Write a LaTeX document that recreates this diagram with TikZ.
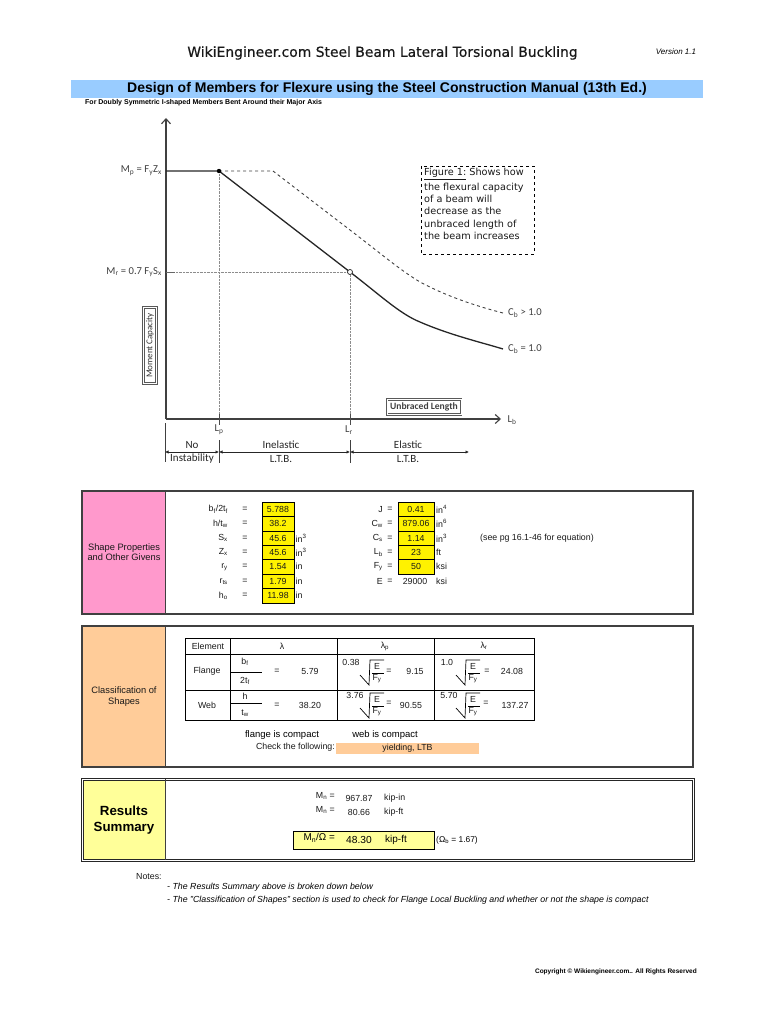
\documentclass[tikz,border=0pt]{standalone}
\usepackage{fontspec}
\setmainfont{Liberation Sans}
\newfontfamily\verdana{DejaVu Sans}
\newfontfamily\titlefont[FakeBold=0.5]{DejaVu Sans}
\newfontfamily\chartfont{Carlito}
\usetikzlibrary{arrows.meta}
\newcommand{\fsz}[1]{\fontsize{#1}{#1}\selectfont}
\newcommand{\sbs}[1]{\textsubscript{#1}}
\newcommand{\sps}[1]{\textsuperscript{#1}}
\definecolor{bandblue}{HTML}{99CCFF}
\definecolor{panelpink}{HTML}{FF99CC}
\definecolor{panelorange}{HTML}{FFCC99}
\definecolor{panelyellow}{HTML}{FFFF99}
\tikzset{
  cell/.style={inner sep=0pt,font=\fsz{8.8}\color{black!90}},
  chartlbl/.style={inner sep=0pt,font=\chartfont\fsz{10.6}\color{black!75}},
  zonelbl/.style={inner sep=0pt,font=\chartfont\fsz{11}\color{black!85}},
  inbox/.style={draw=black,fill=yellow,minimum width=#1,minimum height=14.4pt,inner sep=0pt,font=\fsz{8.8}\color{black!90}},
  paneltxt/.style={inner sep=0pt,align=center,font=\fsz{9.3}\color{black!90}},
  panel/.style={draw=black!75,line width=1.4pt},
  side/.style={draw=black!75,line width=1pt},
  graybox/.style={draw=black!65,double=white,double distance=0.8pt,line width=0.9pt,fill=white,inner sep=0pt},
  dimarrow/.style={{Latex[length=3.5pt,width=3.5pt]}-{Latex[length=3.5pt,width=3.5pt]},line width=0.7pt,black!85}
}
\begin{document}
\begin{tikzpicture}[x=1pt,y=-1pt]
\useasboundingbox (0,0) rectangle (768,1024);
% headings
\node (title) [inner sep=0pt,font=\titlefont\fsz{13.9}\color{black!90}] at (382.5,53) {WikiEngineer.com Steel Beam Lateral Torsional Buckling};
\node (version) [inner sep=0pt,font=\itshape\fsz{8}] at (676,52) {Version 1.1};
\node (band) [fill=bandblue,minimum width=632pt,minimum height=18pt,inner sep=0pt,font=\bfseries\fsz{14}] at (387,89) {Design of Members for Flexure using the Steel Construction Manual (13th Ed.)};
\node (scope) [anchor=west,inner sep=0pt,font=\bfseries\fsz{7}] at (85,103) {For Doubly Symmetric I-shaped Members Bent Around their Major Axis};

% chart axes and curves
\coordinate (orig) at (166,419);
\coordinate (ytop) at (166,118);
\coordinate (xend) at (501,419);
\coordinate (mp) at (219,171);
\coordinate (mpc) at (273,171);
\coordinate (mr) at (350,272);
\coordinate (lp) at (219,419);
\coordinate (lr) at (350,419);
\coordinate (myl) at (166,171);
\coordinate (myr) at (166,272);
\draw[-{Straight Barb[length=5pt,width=9pt]},line width=1.1pt,black!75] (orig) -- (ytop);
\draw[-{Straight Barb[length=5pt,width=9pt]},line width=1.1pt,black!75] (orig) -- (xend);
\draw[line width=1.3pt,black!85] (myl) -- (mp) -- (mr) .. controls (380,295) and (400,314) .. (420,322) .. controls (450,335) and (480,342) .. (503,349);
\draw[dashed,line width=0.9pt,black!75] (mp) -- (mpc) -- (350,230) .. controls (380,253) and (400,270) .. (420,282) .. controls (450,298) and (480,307) .. (503,313);
\draw[densely dotted,black!45] (mp) -- (lp);
\draw[densely dotted,black!45] (mr) -- (lr);
\draw[densely dotted,black!45] (myr) -- (mr);
\draw[black!60] (myr) -- ++(9,0);
\draw[black!70] (lp) ++(0,-5) -- ++(0,11);
\draw[black!70] (lr) ++(0,-5) -- ++(0,11);
\fill[black] (mp) circle (2.2pt);
\draw[black!85,line width=0.7pt,fill=white] (mr) circle (2.5pt);
\node (mplbl) [chartlbl,anchor=east] at (162,171) {M\sbs{p} = F\sbs{y}Z\sbs{x}};
\node (mrlbl) [chartlbl,anchor=east] at (162,272) {M\sbs{r} = 0.7 F\sbs{y}S\sbs{x}};
\node (cbgt) [chartlbl,anchor=west] at (508,313) {C\sbs{b} > 1.0};
\node (cbeq) [chartlbl,anchor=west] at (508,349) {C\sbs{b} = 1.0};
\node (lbl) [chartlbl] at (512,420) {L\sbs{b}};
\node (lplbl) [chartlbl] at (219,430) {L\sbs{p}};
\node (lrlbl) [chartlbl] at (349,430) {L\sbs{r}};
\node (moment) [graybox,rotate=90,minimum width=76pt,minimum height=13pt,font=\chartfont\fsz{9}\color{black!80}] at (150,345.5) {Moment Capacity};
\node (unbraced) [graybox,minimum width=74pt,minimum height=15pt,font=\chartfont\bfseries\fsz{9.6}\color{black!75}] at (424,407) {Unbraced Length};

% zones under the axis
\coordinate (z0) at (165,452);
\coordinate (z1) at (219,452);
\coordinate (z2) at (350,452);
\coordinate (z3) at (469,452);
\draw[line width=0.9pt,black!75] (165,423) -- (165,462);
\draw[line width=0.9pt,black!75] (219,440) -- (219,463);
\draw[line width=0.9pt,black!75] (350,440) -- (350,463);
\draw[dimarrow] (z0) -- (z1);
\draw[dimarrow] (z1) -- (z2);
\draw[dimarrow] (z2) -- (z3);
\foreach \zx/\ztop/\zbot [count=\i] in {192/No/Instability,281/Inelastic/L.T.B.,408/Elastic/L.T.B.} {
  \node (ztop\i) [zonelbl] at (\zx,445) {\ztop};
  \node (zbot\i) [zonelbl] at (\zx,459) {\zbot};
}

% note beside the curves
\draw[dashed,line width=0.8pt] (421,166) rectangle (534,254);
\node (note) [anchor=north west,inner sep=0pt,align=left,font=\verdana\fsz{9.7}\color{black!90}] at (424,168) {\underline{Figure 1:} Shows how\\[2.5pt]the flexural capacity\\[2.5pt]of a beam will\\[2.5pt]decrease as the\\[2.5pt]unbraced length of\\[2.5pt]the beam increases};

% shape properties
\node (shapes) [paneltxt,fill=panelpink,minimum width=83pt,minimum height=123pt] at (124,552.5) {Shape Properties\\[1pt]and Other Givens};
\draw[panel] (82,491) rectangle (693,614);
\draw[side] (165,491) -- (165,614);
\foreach \plbl/\pval/\punit [count=\i] in {{b\sbs{f}/2t\sbs{f}}/5.788/{},{h/t\sbs{w}}/38.2/{},S\sbs{x}/45.6/in\sps{3},Z\sbs{x}/45.6/in\sps{3},r\sbs{y}/1.54/in,r\sbs{ts}/1.79/in,h\sbs{o}/11.98/in} {
  \node (pval\i) [inbox=32pt] at (278,494.8+14.4*\i) {\pval};
  \node (plbl\i) [cell,anchor=east] at (228,494.8+14.4*\i) {\plbl};
  \node (peq\i) [cell] at (245,494.8+14.4*\i) {=};
  \node (punit\i) [cell,anchor=west] at (295.5,494.8+14.4*\i) {\punit};
}
\foreach \glbl/\gval/\gunit [count=\i] in {J/0.41/in\sps{4},C\sbs{w}/879.06/in\sps{6},C\sbs{s}/1.14/in\sps{3},L\sbs{b}/23/ft,F\sbs{y}/50/ksi} {
  \node (gval\i) [inbox=36pt] at (416,494.8+14.4*\i) {\gval};
  \node (glbl\i) [cell,anchor=east] at (383,494.8+14.4*\i) {\glbl};
  \node (geq\i) [cell] at (390,494.8+14.4*\i) {=};
  \node (gunit\i) [cell,anchor=west] at (436,494.8+14.4*\i) {\gunit};
}
\node (elbl) [cell,anchor=east] at (383,581) {E};
\node (eeq) [cell] at (390,581) {=};
\node (eval) [cell] at (415,581) {29000};
\node (eunit) [cell,anchor=west] at (436,581) {ksi};
\node (seepg) [cell,anchor=west] at (480,538) {(see pg 16.1-46 for equation)};

% classification of shapes
\node (classes) [paneltxt,fill=panelorange,minimum width=83pt,minimum height=141pt] at (124,696.5) {Classification of\\[1pt]Shapes};
\draw[panel] (82,626) rectangle (693,767);
\draw[side] (165,626) -- (165,767);
\draw[line width=0.8pt] (185,638) rectangle (534,720);
\foreach \rowy in {654,690} \draw[line width=0.8pt] (185,\rowy) -- (534,\rowy);
\foreach \colx in {230,337,434} \draw[line width=0.8pt] (\colx,638) -- (\colx,720);
\foreach \hx/\htxt [count=\i] in {208/Element,282/λ,385/λ\sbs{p},484/λ\sbs{r}}
  \node (head\i) [cell] at (\hx,646) {\htxt};
\node (flange) [cell] at (207,671) {Flange};
\node (web) [cell] at (207,705) {Web};
\draw (230,672) -- (262,672);
\draw (230,703) -- (262,703);
\node (bf) [cell] at (245,662) {b\sbs{f}};
\node (tf) [cell] at (245,681) {2t\sbs{f}};
\node (hw) [cell] at (245,696) {h};
\node (tw) [cell] at (245,713) {t\sbs{w}};
\node (lfeq) [cell] at (277,671) {=};
\node (lweq) [cell] at (277,705) {=};
\node (lfval) [cell] at (310,671) {5.79};
\node (lwval) [cell] at (310,705) {38.20};
% root signs
\foreach \sx/\dy [count=\i] in {360/0,456/0,360/33,456/33} {
  \draw[line width=0.7pt] (\sx,675+\dy) -- (\sx+9,685+\dy) -- (\sx+10,660+\dy) -- (\sx+24,660+\dy);
  \draw[line width=0.7pt] (\sx+12,673+\dy) -- (\sx+24,673+\dy);
  \node (rte\i) [cell] at (\sx+17,666+\dy) {E};
  \node (rtf\i) [cell] at (\sx+17,679+\dy) {F\sbs{y}};
}
\foreach \cx/\cy/\ctxt [count=\i] in {351/662/0.38,447/662/1.0,355/695/3.76,449/695/5.70,389/671/=,487/671/=,389/703/=,486/703/=,415/671/9.15,512/671/24.08,411/705/90.55,515/705/137.27}
  \node (cval\i) [cell] at (\cx,\cy) {\ctxt};
\node (flcomp) [cell,font=\fsz{9.5}] at (282,735) {flange is compact};
\node (wbcomp) [cell,font=\fsz{9.5}] at (385,735) {web is compact};
\node (check) [cell,anchor=east] at (335,747) {Check the following:};
\node (limit) [cell,fill=panelorange,minimum width=143pt,minimum height=11pt] at (407.5,748.5) {yielding, LTB};

% results
\node (results) [inner sep=0pt,align=center,fill=panelyellow,minimum width=83pt,minimum height=81pt,font=\bfseries\fsz{13.3}] at (124,820) {Results\\[3pt]Summary};
\draw[draw=black!85,double=white,double distance=1pt,line width=1pt] (82,779) rectangle (693,860);
\draw[side] (165,779) -- (165,860);
\node (mnlbla) [cell,anchor=east] at (335,796) {M\sbs{n} =};
\node (mnlblb) [cell,anchor=east] at (335,810) {M\sbs{n} =};
\node (mnvala) [cell] at (359,798) {967.87};
\node (mnvalb) [cell] at (359,812) {80.66};
\node (mnunita) [cell,anchor=west] at (384,798) {kip-in};
\node (mnunitb) [cell,anchor=west] at (384,812) {kip-ft};
\node (allowbox) [draw=black,fill=panelyellow,minimum width=141pt,minimum height=18pt,inner sep=0pt] at (363.5,840) {};
\node (allowlbl) [inner sep=0pt,anchor=east,font=\fsz{9.9}] at (335,838) {M\sbs{n}/Ω =};
\node (allowval) [inner sep=0pt,font=\fsz{10.2}] at (359,840) {48.30};
\node (allowunit) [inner sep=0pt,anchor=west,font=\fsz{10}] at (385,840) {kip-ft};
\node (omega) [cell,anchor=west,font=\fsz{8.4}] at (436,840) {(Ω\sbs{b} = 1.67)};

% notes and footer
\node (notes) [cell,anchor=west] at (136,877) {Notes:};
\node (notea) [cell,anchor=west,font=\itshape\fsz{8.8}] at (167,887) {- The Results Summary above is broken down below};
\node (noteb) [cell,anchor=west,font=\itshape\fsz{8.8}] at (167,900) {- The "Classification of Shapes" section is used to check for Flange Local Buckling and whether or not the shape is compact};
\node (copyr) [inner sep=0pt,font=\bfseries\fsz{6.5},anchor=east] at (697,972) {Copyright © Wikiengineer.com.. All Rights Reserved};
\end{tikzpicture}
\end{document}
